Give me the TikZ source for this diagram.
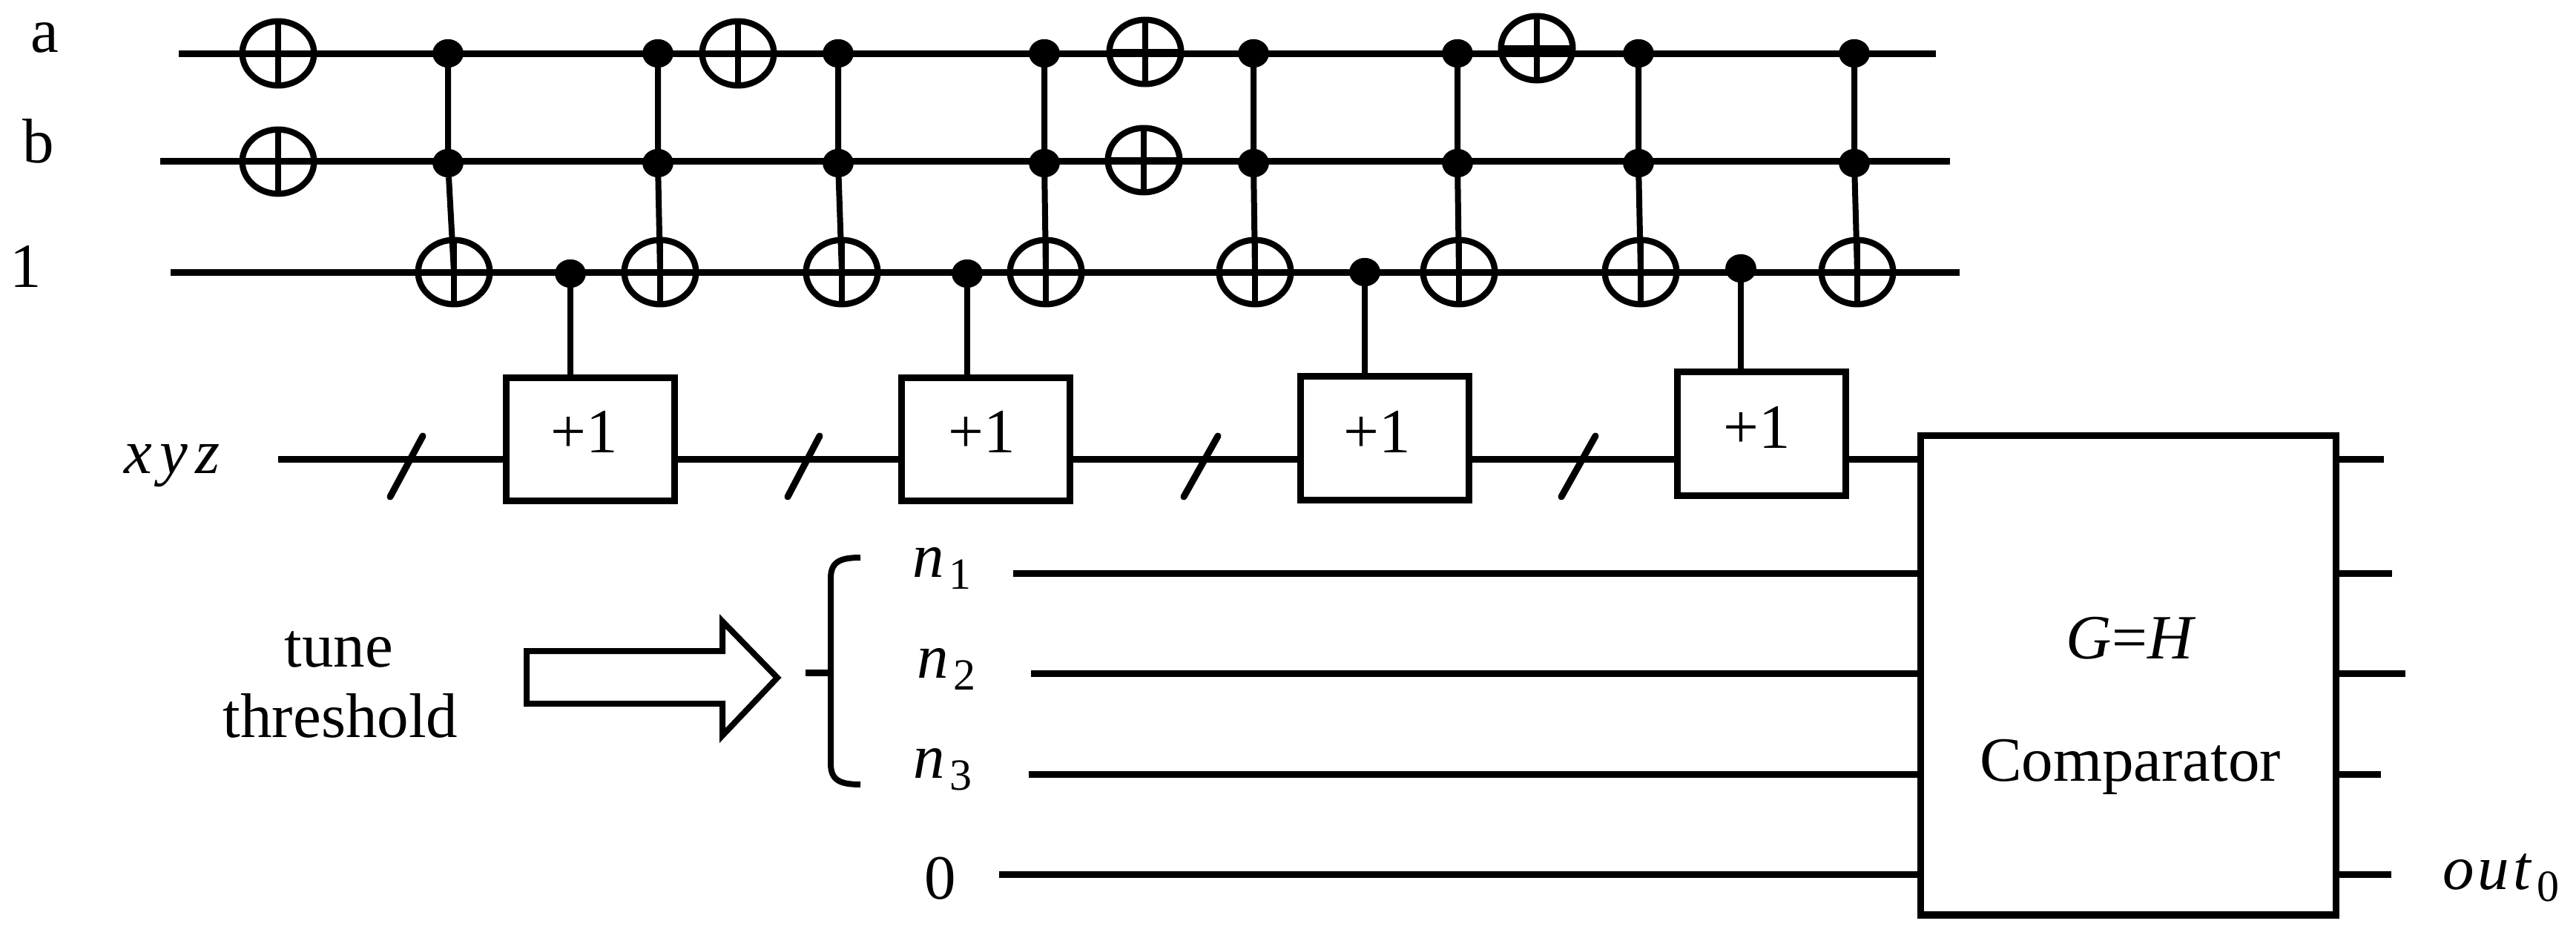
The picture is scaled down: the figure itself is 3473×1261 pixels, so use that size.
\documentclass[tikz,border=0pt]{standalone}
\usepackage{fontspec}
\setmainfont{Liberation Serif}
\usetikzlibrary{shapes.geometric}
\tikzset{
  wire/.style={line width=2.7pt,line cap=butt},
  vline/.style={line width=2.4pt},
  ctrl/.style={ellipse,fill=black,draw=none,minimum width=12.5pt,minimum height=11.5pt,inner sep=0pt,outer sep=0pt},
  xorgate/.style={ellipse,draw=black,line width=2.5pt,minimum width=29pt,minimum height=26pt,inner sep=0pt,
    path picture={\draw[line width=2.4pt] (path picture bounding box.north)--(path picture bounding box.south)
      (path picture bounding box.west)--(path picture bounding box.east);}},
  incbox/.style={rectangle,draw=black,line width=2.7pt,inner sep=0pt,minimum width=68pt,minimum height=50pt},
  cmpbox/.style={rectangle,draw=black,line width=2.8pt,inner sep=0pt,minimum width=168pt,minimum height=194pt},
  txt/.style={anchor=base,inner sep=0pt,font=\fontsize{25.5}{30}\selectfont},
  slashmark/.style={line width=2.7pt,line cap=round},
}
\newcommand{\subl}[1]{\raisebox{-5pt}{\fontsize{18}{20}\selectfont #1}}
\begin{document}
\begin{tikzpicture}[x=0.3pt,y=-0.3pt]
\useasboundingbox (0,0) rectangle (3473,1261);
% +1 boxes and comparator
\node[incbox] (b1) at (796,592.5) {};
\node[incbox] (b2) at (1329,592.5) {};
\node[incbox] (b3) at (1867,591) {};
\node[incbox] (b4) at (2375,585) {};
\node[cmpbox] (cmp) at (2869.5,910.5) {};
% wire ends
\coordinate (as) at (241,73);  \coordinate (ae) at (2610,73);
\coordinate (bs) at (216,218); \coordinate (be) at (2629,218);
\coordinate (cs) at (230,367); \coordinate (ce) at (2642,367);
\coordinate (xs) at (375,619);
\coordinate (n1s) at (1366,773);
\coordinate (n2s) at (1390,908);
\coordinate (n3s) at (1387,1044);
\coordinate (z0s) at (1347,1179);
\coordinate (o1) at (3214,619);
\coordinate (o2) at (3225,773);
\coordinate (o3) at (3243,908);
\coordinate (o4) at (3210,1044);
\coordinate (o5) at (3224,1179);
% wires
\draw[wire] (as)--(ae);
\draw[wire] (bs)--(be);
\draw[wire] (cs)--(ce);
\draw[wire] (xs)--(xs-|b1.west);
\draw[wire] (xs-|b1.east)--(xs-|b2.west);
\draw[wire] (xs-|b2.east)--(xs-|b3.west);
\draw[wire] (xs-|b3.east)--(xs-|b4.west);
\draw[wire] (xs-|b4.east)--(xs-|cmp.west);
\draw[wire] (n1s)--(n1s-|cmp.west);
\draw[wire] (n2s)--(n2s-|cmp.west);
\draw[wire] (n3s)--(n3s-|cmp.west);
\draw[wire] (z0s)--(z0s-|cmp.west);
\draw[wire] (o1-|cmp.east)--(o1);
\draw[wire] (o2-|cmp.east)--(o2);
\draw[wire] (o3-|cmp.east)--(o3);
\draw[wire] (o4-|cmp.east)--(o4);
\draw[wire] (o5-|cmp.east)--(o5);
% single X gates
\node[xorgate] (xa1) at (375,72) {};
\node[xorgate] (xb1) at (375,218) {};
\node[xorgate] (xa2) at (995,72) {};
\node[xorgate] (xa3) at (1544,70) {};
\node[xorgate] (xb3) at (1542,216) {};
\node[xorgate] (xa4) at (2072,65) {};
% Toffoli gates
\foreach \i/\xa/\xb in {1/604/612,2/887/890,3/1130/1135,4/1408/1410,5/1690/1692,6/1965/1967,7/2209/2212,8/2500/2504}{
  \node[xorgate] (t\i) at (\xb,367) {};
  \node[ctrl] (ca\i) at (\xa,72) {};
  \node[ctrl] (cb\i) at (\xa,220) {};
  \draw[vline] (ca\i)--(cb\i)--(t\i.center);
}
% controls to +1 boxes
\foreach \i/\x/\y in {1/769/369,2/1304/369,3/1840/367,4/2347/362}{
  \node[ctrl] (d\i) at (\x,\y) {};
  \draw[vline] (d\i.center)--(d\i.center|-b\i.north);
}
% bus slashes
\foreach \i/\xa/\xb in {1/526/570,2/1062/1105,3/1596/1642,4/2105/2151}{
  \coordinate (sl\i) at (\xa,670);
  \coordinate (sh\i) at (\xb,588);
  \draw[slashmark] (sl\i)--(sh\i);
}
% text
\node[txt] (la) at (60,71) {a};
\node[txt] (lb) at (52,220) {b};
\node[txt] (lc) at (35,387) {1};
\node[txt] (lx) at (232,638) {\textit{x\kern3pt y\kern3pt z}};
\node[txt] (p1) at (788,610) {+1};
\node[txt] (p2) at (1324,610) {+1};
\node[txt] (p3) at (1857,610) {+1};
\node[txt] (p4) at (2369,604) {+1};
\node[txt] (t1) at (457,899) {tune};
\node[txt] (t2) at (459,994) {threshold};
\node[txt] (ln1) at (1270,778) {\textit{n}\kern2pt\subl{1}};
\node[txt] (ln2) at (1276,914) {\textit{n}\kern2pt\subl{2}};
\node[txt] (ln3) at (1271,1049) {\textit{n}\kern2pt\subl{3}};
\node[txt] (l0) at (1268,1212) {0};
\node[txt] (gh) at (2873,888) {\textit{G}=\textit{H}};
\node[txt] (cm) at (2872,1053) {Comparator};
\node[txt] (out) at (3372,1199) {\textit{o\kern1.5pt u\kern1.5pt t}\kern2pt\subl{0}};
% block arrow
\draw[line width=2.4pt,line join=miter,fill=white] (710,878)--(974,878)--(974,838)--(1048,914)--(974,992)--(974,949)--(710,949)--cycle;
% brace
\draw[line width=2.4pt] (1160,752) .. controls (1132,752) and (1120,758) .. (1120,780) -- (1120,1030) .. controls (1120,1052) and (1132,1058) .. (1160,1058);
\draw[line width=2.7pt] (1086,907)--(1120,907);
\end{tikzpicture}
\end{document}
